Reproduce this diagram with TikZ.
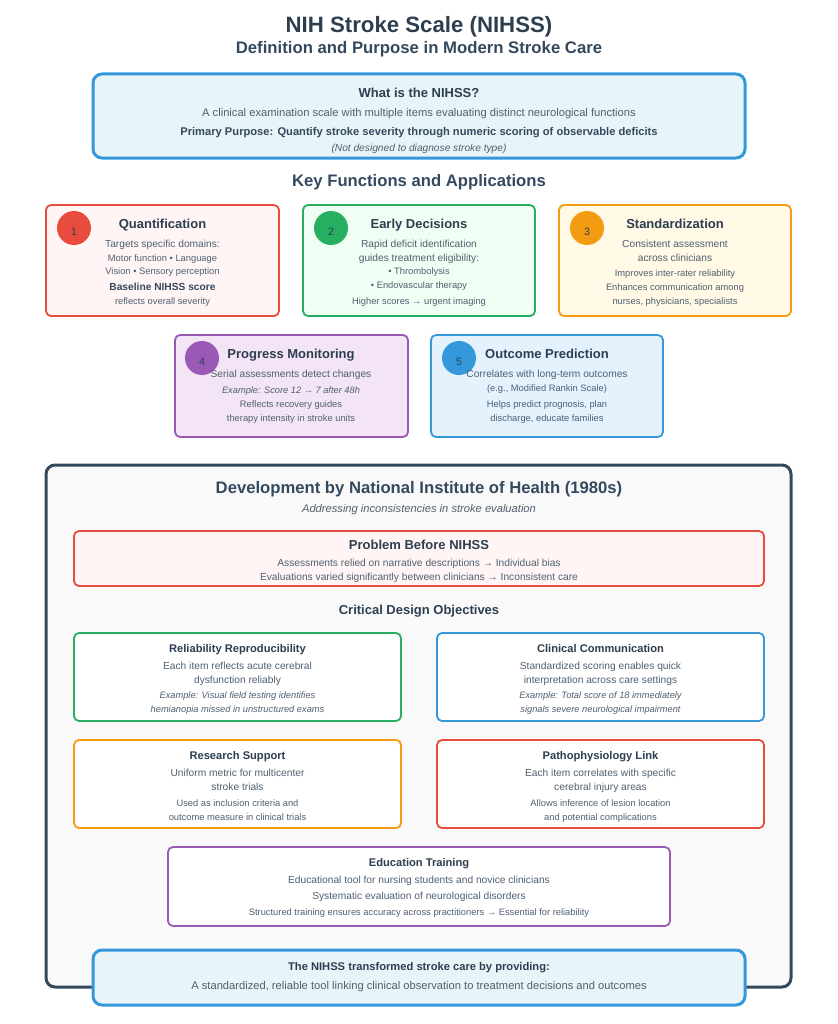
\documentclass[tikz,border=0pt]{standalone}
\usepackage{fontspec}
\setmainfont{Liberation Sans}
\usepackage{xcolor}
\definecolor{inkdark}{HTML}{2C3E50}
\definecolor{inkbody}{HTML}{4F6070}
\definecolor{framedark}{HTML}{34495E}
\definecolor{redline}{HTML}{E74C3C}
\definecolor{greenline}{HTML}{27AE60}
\definecolor{orangeline}{HTML}{F39C12}
\definecolor{purpleline}{HTML}{9B59B6}
\definecolor{blueline}{HTML}{3498DB}
\definecolor{icefill}{HTML}{E8F4F8}
\definecolor{redfill}{HTML}{FFF5F5}
\definecolor{greenfill}{HTML}{F0FFF4}
\definecolor{yellowfill}{HTML}{FFF9E6}
\definecolor{purplefill}{HTML}{F3E5F5}
\definecolor{bluefill}{HTML}{E3F2FD}
\definecolor{panelfill}{HTML}{F9F9F9}
\def\PX{0.75pt}
\newcommand\PXsize[1]{\fontsize{#1}{#1}\selectfont}
\tikzset{
  plate/.style={draw,rounded corners=5*\PX,line width=1.8*\PX,inner sep=0pt},
  bigplate/.style={plate,line width=3*\PX,rounded corners=9*\PX},
  badge/.style={circle,inner sep=0pt,minimum size=34*\PX},
  maintitle/.style={anchor=base,inner sep=0pt,text=inkdark,font=\PXsize{16.66}\bfseries},
  subtitle/.style={anchor=base,inner sep=0pt,text=framedark,font=\PXsize{12.55}\bfseries},
  sectitle/.style={anchor=base,inner sep=0pt,text=framedark,font=\PXsize{12.5}\bfseries},
  boxtitle/.style={anchor=base,inner sep=0pt,text=inkdark,font=\PXsize{9.75}\bfseries},
  smalltitle/.style={anchor=base,inner sep=0pt,text=inkdark,font=\PXsize{8.35}\bfseries},
  widebody/.style={anchor=base,inner sep=0pt,text=inkbody,font=\PXsize{8.37}},
  body/.style={anchor=base,inner sep=0pt,text=inkbody,font=\PXsize{7.66}},
  fine/.style={anchor=base,inner sep=0pt,text=inkbody,font=\PXsize{7}},
  widebold/.style={anchor=base,inner sep=0pt,text=framedark,font=\PXsize{8.37}\bfseries},
  finebold/.style={anchor=base,inner sep=0pt,text=framedark,font=\PXsize{7.66}\bfseries},
  finenote/.style={anchor=base,inner sep=0pt,text=inkbody,font=\PXsize{6.95}\itshape},
  widenote/.style={anchor=base,inner sep=0pt,text=inkbody,font=\PXsize{8.37}\itshape},
  midnote/.style={anchor=base,inner sep=0pt,text=inkbody,font=\PXsize{7.64}\itshape},
  digit/.style={anchor=base,inner sep=0pt,text=inkdark,font=\PXsize{8}},
}
% name, options, left, top, right, bottom
\newcommand\RBox[6]{
  \pgfmathsetmacro{\W}{#5-#3}
  \pgfmathsetmacro{\H}{#6-#4}
  \node[#2,minimum width=\W*\PX,minimum height=\H*\PX] (#1)
    at ({(#3+#5)/2},{(#4+#6)/2}) {};
}
% name, colour, x, y, number
\newcommand\Badge[5]{
  \node[badge,fill=#2] (#1) at (#3,#4) {};
  \node[digit] (#1num) at (#3,#4+7) {#5};
}
\begin{document}
\begin{tikzpicture}[x=\PX,y=-\PX]
\useasboundingbox (0,0) rectangle (838,1024);
\node[maintitle] (title) at (419,33) {NIH Stroke Scale (NIHSS)};
\node[subtitle] (subhead) at (419,54) {Definition and Purpose in Modern Stroke Care};

\RBox{whatbox}{bigplate,draw=blueline,fill=icefill}{93}{74}{745}{158}
\node[boxtitle] (whathead) at (419,98) {What is the NIHSS?};
\node[widebody] (whatone) at (419,116) {A clinical examination scale with multiple items evaluating distinct neurological functions};
\node[widebold] (whattwo) at (419,135) {Primary Purpose: Quantify stroke severity through numeric scoring of observable deficits};
\node[midnote] (whatnote) at (419,151) {(Not designed to diagnose stroke type)};

\node[sectitle] (keyhead) at (419,186) {Key Functions and Applications};

\RBox{quant}{plate,draw=redline,fill=redfill}{46}{205}{279}{316}
\Badge{quantdot}{redline}{74}{228}{1}
\node[boxtitle] (quanthead) at (162.5,228) {Quantification};
\node[body] (quantone) at (162.5,247) {Targets specific domains:};
\node[fine] (quanttwo) at (162.5,261) {Motor function • Language};
\node[fine] (quantthree) at (162.5,274) {Vision • Sensory perception};
\node[finebold] (quantfour) at (162.5,290) {Baseline NIHSS score};
\node[fine] (quantfive) at (162.5,304) {reflects overall severity};

\RBox{early}{plate,draw=greenline,fill=greenfill}{303}{205}{535}{316}
\Badge{earlydot}{greenline}{331}{228}{2}
\node[boxtitle] (earlyhead) at (419,228) {Early Decisions};
\node[body] (earlyone) at (419,247) {Rapid deficit identification};
\node[body] (earlytwo) at (419,261) {guides treatment eligibility:};
\node[fine] (earlythree) at (419,274) {• Thrombolysis};
\node[fine] (earlyfour) at (419,288) {• Endovascular therapy};
\node[fine] (earlyfive) at (419,304) {Higher scores → urgent imaging};

\RBox{stand}{plate,draw=orangeline,fill=yellowfill}{559}{205}{791}{316}
\Badge{standdot}{orangeline}{587}{228}{3}
\node[boxtitle] (standhead) at (675,228) {Standardization};
\node[body] (standone) at (675,247) {Consistent assessment};
\node[body] (standtwo) at (675,261) {across clinicians};
\node[fine] (standthree) at (675,276) {Improves inter-rater reliability};
\node[fine] (standfour) at (675,290) {Enhances communication among};
\node[fine] (standfive) at (675,304) {nurses, physicians, specialists};

\RBox{prog}{plate,draw=purpleline,fill=purplefill}{175}{335}{408}{437}
\Badge{progdot}{purpleline}{202}{358}{4}
\node[boxtitle] (proghead) at (291,358) {Progress Monitoring};
\node[body] (progone) at (291,377) {Serial assessments detect changes};
\node[finenote] (progtwo) at (291,393) {Example: Score 12 → 7 after 48h};
\node[fine] (progthree) at (291,407) {Reflects recovery guides};
\node[fine] (progfour) at (291,421) {therapy intensity in stroke units};

\RBox{outc}{plate,draw=blueline,fill=bluefill}{431}{335}{663}{437}
\Badge{outcdot}{blueline}{459}{358}{5}
\node[boxtitle] (outchead) at (547,358) {Outcome Prediction};
\node[body] (outcone) at (547,377) {Correlates with long-term outcomes};
\node[fine] (outctwo) at (547,391) {(e.g., Modified Rankin Scale)};
\node[fine] (outcthree) at (547,407) {Helps predict prognosis, plan};
\node[fine] (outcfour) at (547,421) {discharge, educate families};

\RBox{devbox}{bigplate,draw=framedark,fill=panelfill}{46}{465}{791}{987}
\node[sectitle] (devhead) at (419,493) {Development by National Institute of Health (1980s)};
\node[widenote] (devnote) at (419,512) {Addressing inconsistencies in stroke evaluation};

\RBox{prob}{plate,draw=redline,fill=redfill}{74}{531}{764}{586}
\node[boxtitle] (probhead) at (419,549) {Problem Before NIHSS};
\node[body] (probone) at (419,566) {Assessments relied on narrative descriptions → Individual bias};
\node[body] (probtwo) at (419,580) {Evaluations varied significantly between clinicians → Inconsistent care};

\node[boxtitle] (objhead) at (419,614) {Critical Design Objectives};

\RBox{reli}{plate,draw=greenline,fill=white}{74}{633}{401}{721}
\node[smalltitle] (relihead) at (237.5,652) {Reliability Reproducibility};
\node[body] (relione) at (237.5,669) {Each item reflects acute cerebral};
\node[body] (relitwo) at (237.5,683) {dysfunction reliably};
\node[finenote] (relithree) at (237.5,698) {Example: Visual field testing identifies};
\node[finenote] (relifour) at (237.5,712) {hemianopia missed in unstructured exams};

\RBox{comm}{plate,draw=blueline,fill=white}{437}{633}{764}{721}
\node[smalltitle] (commhead) at (600.5,652) {Clinical Communication};
\node[body] (commone) at (600.5,669) {Standardized scoring enables quick};
\node[body] (commtwo) at (600.5,683) {interpretation across care settings};
\node[finenote] (commthree) at (600.5,698) {Example: Total score of 18 immediately};
\node[finenote] (commfour) at (600.5,712) {signals severe neurological impairment};

\RBox{rese}{plate,draw=orangeline,fill=white}{74}{740}{401}{828}
\node[smalltitle] (resehead) at (237.5,759) {Research Support};
\node[body] (reseone) at (237.5,776) {Uniform metric for multicenter};
\node[body] (resetwo) at (237.5,790) {stroke trials};
\node[fine] (resethree) at (237.5,806) {Used as inclusion criteria and};
\node[fine] (resefour) at (237.5,820) {outcome measure in clinical trials};

\RBox{path}{plate,draw=redline,fill=white}{437}{740}{764}{828}
\node[smalltitle] (pathhead) at (600.5,759) {Pathophysiology Link};
\node[body] (pathone) at (600.5,776) {Each item correlates with specific};
\node[body] (pathtwo) at (600.5,790) {cerebral injury areas};
\node[fine] (paththree) at (600.5,806) {Allows inference of lesion location};
\node[fine] (pathfour) at (600.5,820) {and potential complications};

\RBox{educ}{plate,draw=purpleline,fill=white}{168}{847}{670}{926}
\node[smalltitle] (educhead) at (419,866) {Education Training};
\node[body] (educone) at (419,883) {Educational tool for nursing students and novice clinicians};
\node[body] (eductwo) at (419,899) {Systematic evaluation of neurological disorders};
\node[fine] (educthree) at (419,915) {Structured training ensures accuracy across practitioners → Essential for reliability};

\RBox{sumbox}{bigplate,draw=blueline,fill=icefill}{93}{950}{745}{1005}
\node[widebold,text=inkdark] (sumhead) at (419,970) {The NIHSS transformed stroke care by providing:};
\node[widebody] (sumone) at (419,989) {A standardized, reliable tool linking clinical observation to treatment decisions and outcomes};
\end{tikzpicture}
\end{document}
